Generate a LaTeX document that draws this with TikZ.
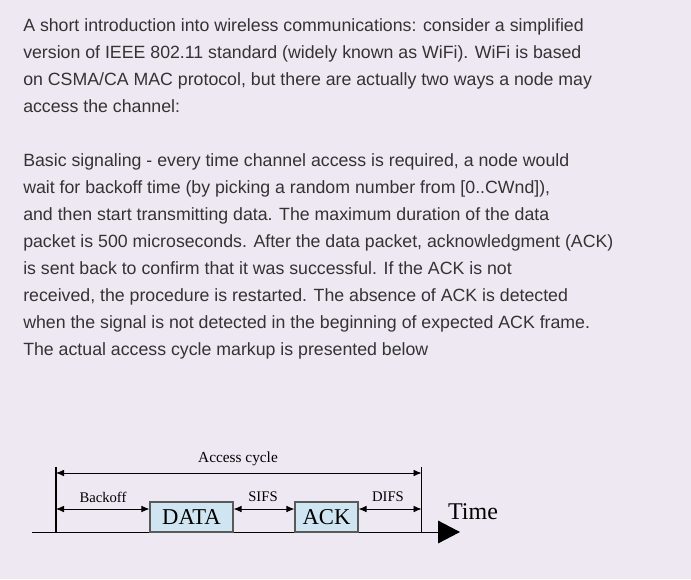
\documentclass[tikz,border=0pt]{standalone}
\usepackage{fontspec}
\setmainfont{Liberation Sans}
\newfontfamily\serifx{Liberation Serif}
\usetikzlibrary{arrows.meta}
\definecolor{bg}{HTML}{EEE8F3}
\definecolor{txt}{HTML}{333333}
\definecolor{boxf}{HTML}{CFE6F2}
\begin{document}
\begin{tikzpicture}[x=0.75pt,y=-0.75pt,
  para/.style={anchor=base west,inner sep=0,text=txt,font=\fontsize{13.3}{15}\selectfont},
  lbl/.style={inner sep=0,font=\serifx\fontsize{11}{13}\selectfont},
  frame/.style={draw=gray!70!black,fill=boxf,line width=0.9pt,inner sep=0,font=\serifx\fontsize{17}{19}\selectfont},
  dim/.style={line width=0.6pt,{Latex[length=6pt,width=5pt]}-{Latex[length=6pt,width=5pt]}}]
\fill[bg] (0,0) rectangle (691,579);
\useasboundingbox (0,0) rectangle (691,579);
\foreach \t [count=\i] in {{A short introduction into wireless communications: consider a simplified},
{version of IEEE 802.11 standard (widely known as WiFi). WiFi is based},
{on CSMA/CA MAC protocol, but there are actually two ways a node may},
{access the channel:}}
  \node[para] (p\i) at (23,{25+27*(\i-1)+6}) {\t};
\foreach \t [count=\i] in {{Basic signaling - every time channel access is required, a node would},
{wait for backoff time (by picking a random number from [0..CWnd]),},
{and then start transmitting data. The maximum duration of the data},
{packet is 500 microseconds. After the data packet, acknowledgment (ACK)},
{is sent back to confirm that it was successful. If the ACK is not},
{received, the procedure is restarted. The absence of ACK is detected},
{when the signal is not detected in the beginning of expected ACK frame.},
{The actual access cycle markup is presented below}}
  \node[para] (q\i) at (23,{160+27*(\i-1)+6}) {\t};
% diagram
\coordinate (ax0) at (32,532);
\coordinate (ax1) at (460,532);
\draw[line width=0.7pt,-{Triangle[length=16.5pt,width=17pt]}] (ax0) -- (ax1);
\coordinate (tl0) at (56,467); \coordinate (tl1) at (56,532);
\coordinate (tr0) at (421.5,467); \coordinate (tr1) at (421.5,532);
\draw[line width=0.8pt] (tl0) -- (tl1);
\draw[line width=0.8pt] (tr0) -- (tr1);
\node[frame,minimum width=62.25pt,minimum height=22.5pt] (data) at (191.5,517) {DATA};
\node[frame,minimum width=47.25pt,minimum height=22.5pt] (ack) at (326.5,517) {ACK};
\coordinate (a1) at (56,473); \coordinate (a2) at (421.5,473);
\draw[dim] (a1) -- (a2);
\node[lbl,font=\serifx\fontsize{11.5}{13}\selectfont] (ac) at (238,459) {Access cycle};
\coordinate (b1) at (56,509); \coordinate (b2) at (data.west|-b1);
\draw[dim] (b1) -- (b2);
\draw[dim] (data.east|-b1) -- (ack.west|-b1);
\coordinate (d2) at (421.5,509);
\draw[dim] (ack.east|-b1) -- (d2);
\node[lbl] (bo) at (103,497) {Backoff};
\node[lbl] (si) at (263,497) {SIFS};
\node[lbl] (di) at (388,497) {DIFS};
\node[lbl,font=\serifx\fontsize{18}{20}\selectfont] (time) at (473,512) {Time};
\end{tikzpicture}
\end{document}
